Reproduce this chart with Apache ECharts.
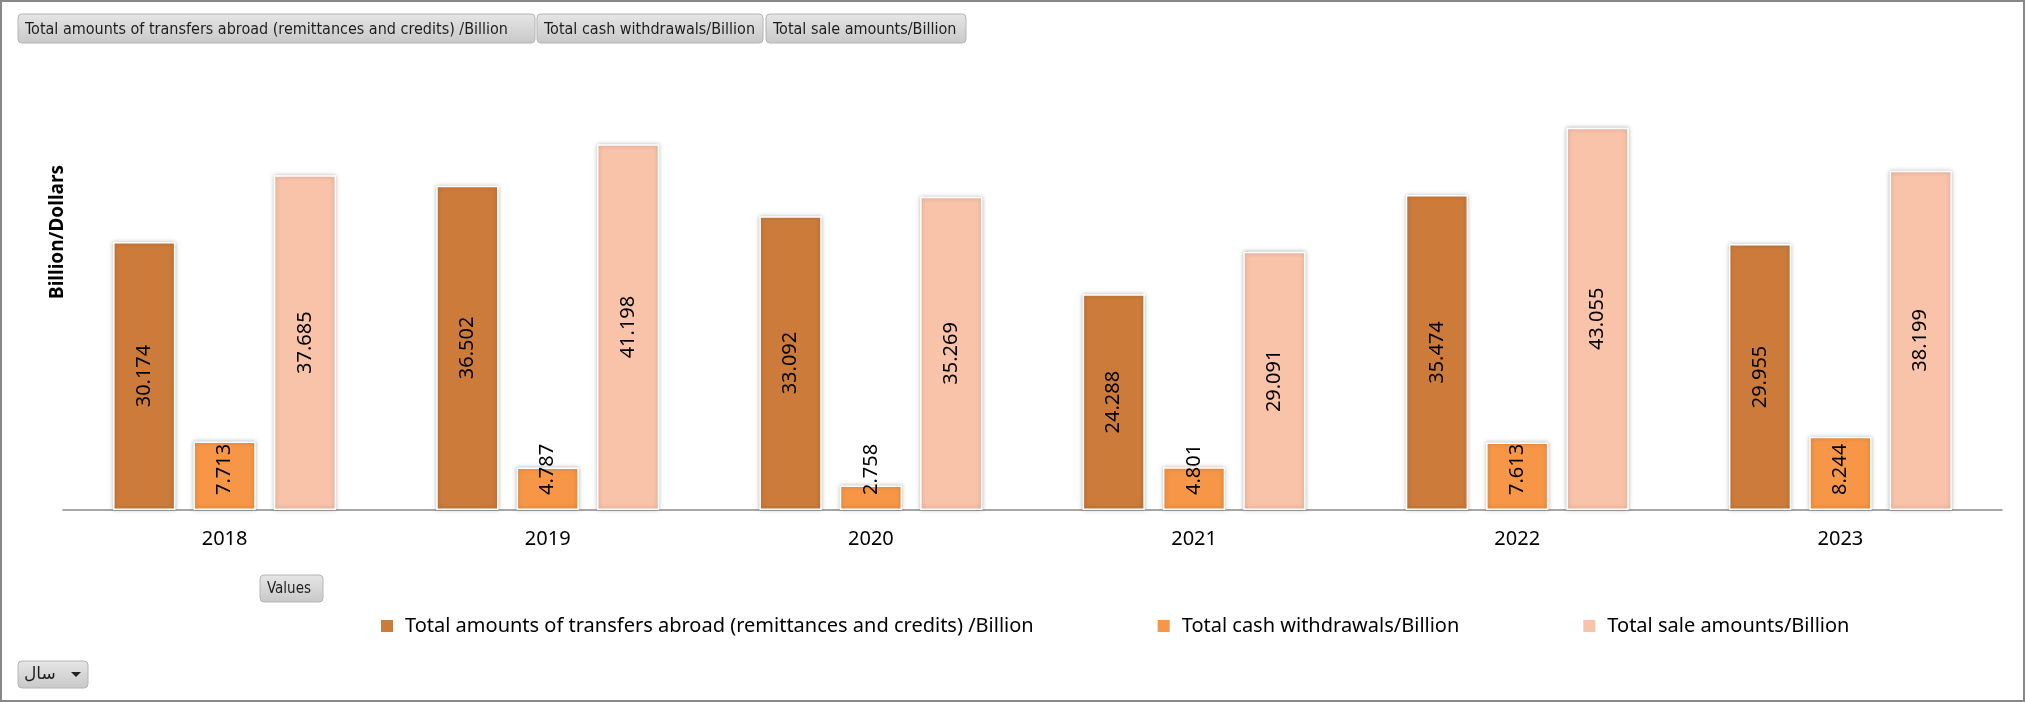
<!DOCTYPE html>
<html>
<head>
<meta charset="utf-8">
<script src="https://cdn.jsdelivr.net/npm/echarts@6/dist/echarts.min.js"></script>
<style>
html,body{margin:0;padding:0;background:#fff;}
#chart{width:2025px;height:702px;}
</style>
</head>
<body>
<div id="chart"></div>
<script>
const categories = ['2018', '2019', '2020', '2021', '2022', '2023'];
const seriesNames = [
  'Total amounts of transfers abroad (remittances and credits) /Billion',
  'Total cash withdrawals/Billion',
  'Total sale amounts/Billion'
];
const transfers = [30.174, 36.502, 33.092, 24.288, 35.474, 29.955];
const withdrawals = [7.713, 4.787, 2.758, 4.801, 7.613, 8.244];
const sales = [37.685, 41.198, 35.269, 29.091, 43.055, 38.199];
const colors = ['#CC7B3A', '#F79646', '#F9C3A9'];
const yAxisTitle = 'Billion/Dollars';

const chart = echarts.init(document.getElementById('chart'));

function button(x, y, w, h, text, fontSize) {
  return {
    type: 'group',
    children: [
      {
        type: 'rect',
        shape: { x: x, y: y, width: w, height: h, r: 4 },
        style: {
          fill: new echarts.graphic.LinearGradient(0, 0, 0, 1, [
            { offset: 0, color: '#E6E6E6' },
            { offset: 1, color: '#C8C8C8' }
          ]),
          stroke: '#B5B5B5',
          lineWidth: 1
        }
      },
      {
        type: 'text',
        x: x + 7,
        y: y + h / 2 + 1,
        style: {
          text: text,
          fill: '#1e1e1e',
          fontSize: fontSize,
          fontFamily: 'DejaVu Sans Condensed',
          verticalAlign: 'middle',
          align: 'left'
        }
      }
    ]
  };
}

const barData = [transfers, withdrawals, sales];

const baseLabel = {
  show: true,
  rotate: 90,
  color: '#000',
  fontSize: 20,
  fontFamily: 'Noto Sans',
  formatter: p => p.value.toFixed(3)
};

const option = {
  animation: false,
  backgroundColor: '#fff',
  grid: { left: 63, right: 23, top: 66, bottom: 192 },
  xAxis: {
    type: 'category',
    data: categories,
    axisLine: { lineStyle: { color: '#8a8a8a', width: 1.5 } },
    axisTick: { show: false },
    axisLabel: { color: '#000', fontSize: 20, margin: 19, fontFamily: 'Noto Sans' }
  },
  yAxis: {
    type: 'value',
    min: 0,
    max: 50,
    show: false
  },
  legend: {
    left: 374,
    top: 611,
    icon: 'rect',
    itemWidth: 14,
    itemHeight: 14,
    itemGap: 122,
    textStyle: { color: '#000', fontSize: 20, fontFamily: 'Noto Sans', padding: [0, 0, 0, 6] },
    data: seriesNames
  },
  series: seriesNames.map((name, i) => ({
    name: name,
    type: 'bar',
    data: barData[i],
    barGap: '29%',
    barCategoryGap: '31%',
    itemStyle: {
      color: colors[i],
      borderColor: '#fff',
      borderWidth: 1.5,
      shadowBlur: 4,
      shadowColor: 'rgba(0,0,0,0.25)'
    },
    label: i === 1
      ? Object.assign({}, baseLabel, { position: 'insideBottom', distance: 15, align: 'left', verticalAlign: 'middle' })
      : Object.assign({}, baseLabel, { position: 'inside' })
  })),
  graphic: [
    {
      type: 'rect',
      shape: { x: 1, y: 1, width: 2023, height: 700 },
      style: { fill: 'none', stroke: '#888', lineWidth: 2 },
      silent: true
    },
    button(18, 14, 517, 29, seriesNames[0], 16),
    button(537, 14, 226, 29, seriesNames[1], 16),
    button(766, 14, 200, 29, seriesNames[2], 16),
    button(260, 575, 63, 27, 'Values', 15),
    {
      type: 'group',
      children: [
        {
          type: 'rect',
          shape: { x: 18, y: 661, width: 70, height: 27, r: 4 },
          style: {
            fill: new echarts.graphic.LinearGradient(0, 0, 0, 1, [
              { offset: 0, color: '#E6E6E6' },
              { offset: 1, color: '#C8C8C8' }
            ]),
            stroke: '#B5B5B5', lineWidth: 1
          }
        },
        {
          type: 'text', x: 24, y: 675,
          style: { text: 'سال', fill: '#1e1e1e', fontSize: 17, fontFamily: 'DejaVu Sans', verticalAlign: 'middle', align: 'left' }
        },
        {
          type: 'polygon',
          shape: { points: [[71, 672], [81, 672], [76, 677]] },
          style: { fill: '#222' }
        }
      ]
    },
    {
      type: 'text',
      x: 58,
      y: 232,
      rotation: Math.PI / 2,
      style: {
        text: yAxisTitle,
        fill: '#000',
        fontSize: 19,
        fontWeight: 'bold',
        fontFamily: 'Noto Sans',
        align: 'center',
        verticalAlign: 'middle'
      }
    }
  ]
};
chart.setOption(option);
</script>
</body>
</html>
